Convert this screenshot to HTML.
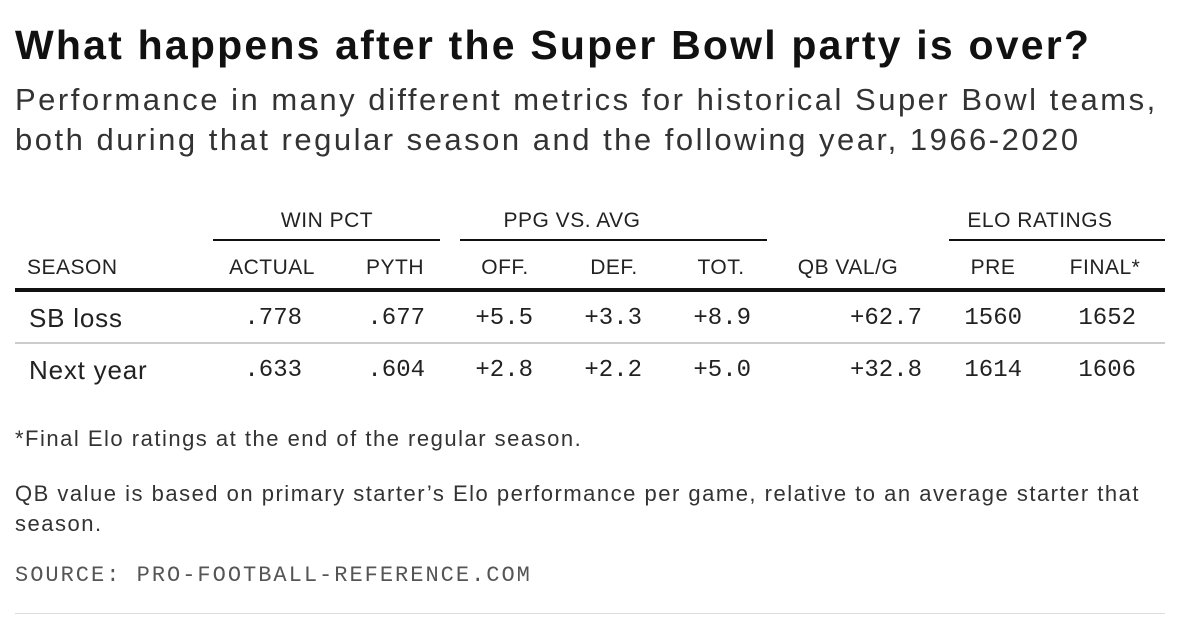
<!DOCTYPE html>
<html><head><meta charset="utf-8"><style>
body{margin:0;width:1190px;height:639px;background:#fff;font-family:"Liberation Sans",sans-serif;color:#222;position:relative;overflow:hidden}
.a{position:absolute;white-space:nowrap}
.h{font-size:21px;letter-spacing:0.5px;color:#222}
.n{font-family:"Liberation Mono",monospace;font-size:24px;color:#222;text-align:right}
.c{transform:translateX(-50%)}
.ln{position:absolute;background:#111}
</style></head><body>
<div class="a" style="left:15px;top:22px;font-size:41px;letter-spacing:2.2px;font-weight:bold;color:#111">What happens after the Super Bowl party is over?</div>
<div class="a" style="left:15px;top:80px;font-size:31px;letter-spacing:2.5px;line-height:40px;color:#333">Performance in many different metrics for historical Super Bowl teams,<br>both during that regular season and the following year, 1966-2020</div>

<div class="a h c" style="left:327px;top:209px">WIN PCT</div>
<div class="ln" style="left:213px;top:239px;width:227px;height:2px"></div>
<div class="a h c" style="left:572px;top:209px">PPG VS. AVG</div>
<div class="ln" style="left:460px;top:239px;width:307px;height:2px"></div>
<div class="a h c" style="left:1040px;top:209px">ELO RATINGS</div>
<div class="ln" style="left:949px;top:239px;width:216px;height:2px"></div>

<div class="a h" style="left:27px;top:256px">SEASON</div>
<div class="a h c" style="left:272px;top:256px">ACTUAL</div>
<div class="a h c" style="left:395px;top:256px">PYTH</div>
<div class="a h c" style="left:505px;top:256px">OFF.</div>
<div class="a h c" style="left:614px;top:256px">DEF.</div>
<div class="a h c" style="left:721px;top:256px">TOT.</div>
<div class="a h c" style="left:848px;top:256px">QB VAL/G</div>
<div class="a h c" style="left:993px;top:256px">PRE</div>
<div class="a h c" style="left:1105px;top:256px">FINAL*</div>
<div class="ln" style="left:15px;top:288px;width:1150px;height:4px"></div>

<div id="rows"></div>
<div class="ln" style="left:15px;top:342px;width:1150px;height:2px;background:#ccc"></div>

<div class="a" style="left:15px;top:426px;font-size:22px;letter-spacing:1.5px;color:#333">*Final Elo ratings at the end of the regular season.</div>
<div class="a" style="left:15px;top:479px;font-size:22px;letter-spacing:1.5px;line-height:30px;color:#333">QB value is based on primary starter’s Elo performance per game, relative to an average starter that<br>season.</div>
<div class="a" style="left:15px;top:563px;font-family:'Liberation Mono',monospace;font-size:22px;letter-spacing:2px;color:#555">SOURCE: PRO-FOOTBALL-REFERENCE.COM</div>
<div class="ln" style="left:15px;top:613px;width:1150px;height:1px;background:#ddd"></div>

<script>
const seasons=["SB loss","Next year"];
const winActual=[".778",".633"];
const winPyth=[".677",".604"];
const ppgOff=["+5.5","+2.8"];
const ppgDef=["+3.3","+2.2"];
const ppgTot=["+8.9","+5.0"];
const qbVal=["+62.7","+32.8"];
const eloPre=["1560","1614"];
const eloFinal=["1652","1606"];
const cols=[[winActual,302],[winPyth,425],[ppgOff,533],[ppgDef,642],[ppgTot,751],[qbVal,922],[eloPre,1022],[eloFinal,1136]];
const names=["actual","pyth","off","def","tot","qb","pre","final"];
const root=document.getElementById('rows');
seasons.forEach((s,i)=>{
  const top=303+i*52;
  const l=document.createElement('div');
  l.className='a';
  l.style.cssText=`left:29px;top:${top}px;font-size:26px;letter-spacing:0.8px;color:#222`;
  l.textContent=s;
  
  
  root.appendChild(l);
  cols.forEach(([arr,r],j)=>{
    const d=document.createElement('div');
    d.className='a n';
    d.style.cssText=`right:${1190-r}px;top:${top+2}px`;
    d.textContent=arr[i];
    
    
    root.appendChild(d);
  });
});
</script>
</body></html>
